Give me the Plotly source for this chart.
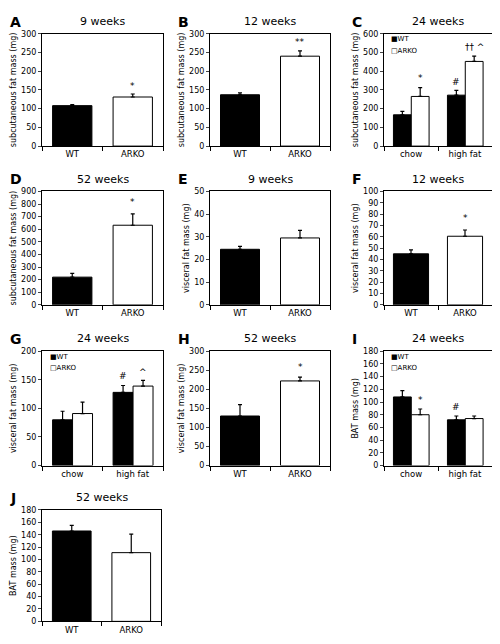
import plotly.graph_objects as go

W, H = 500, 644
FONT = "DejaVu Sans"

# ---- data (mg), mean and upward SEM ----
a_wt, a_ko = [108], [131]
a_wt_err, a_ko_err = [3], [8]
b_wt, b_ko = [137], [240]
b_wt_err, b_ko_err = [5], [14]
c_groups = ["chow", "high fat"]
c_wt, c_ko = [167, 272], [265, 452]
c_wt_err, c_ko_err = [18, 25], [47, 28]
d_wt, d_ko = [220], [632]
d_wt_err, d_ko_err = [30], [90]
e_wt, e_ko = [24.5], [29.5]
e_wt_err, e_ko_err = [1.3], [3.3]
f_wt, f_ko = [45], [60.5]
f_wt_err, f_ko_err = [3.5], [5.5]
g_wt, g_ko = [80, 128], [91, 139]
g_wt_err, g_ko_err = [15, 12], [20, 10]
h_wt, h_ko = [130], [222]
h_wt_err, h_ko_err = [30], [10]
i_wt, i_ko = [108, 72], [80, 74]
i_wt_err, i_ko_err = [10, 6], [9, 4]
j_wt, j_ko = [146], [111]
j_wt_err, j_ko_err = [9], [30]

geno = ["WT", "ARKO"]

# panel boxes in pixels: (x0, x1, ytop, ybottom)
COL = [(34, 155), (202, 322), (376, 484)]
ROW = [(22, 136), (182, 297), (344, 460), (505, 618)]

fig = go.Figure()
annots = []


def px_dom(col, row, x1=None):
    x0, xe = COL[col]
    if x1 is not None:
        xe = x1
    yt, yb = ROW[row]
    return [x0 / W, xe / W], [(H - yb) / H, (H - yt) / H]


def err(v):
    return dict(type="data", array=v, arrayminus=[0] * len(v), symmetric=False,
                color="black", thickness=1.2, width=2)


def panel(n, letter, title, ylab, ymax, dtick, col, row, wt, ko, wte, koe,
          groups=None, marks=None, legend=False, x1=None):
    xa, ya = ("xaxis", "yaxis") if n == 1 else (f"xaxis{n}", f"yaxis{n}")
    xr, yr = ("x", "y") if n == 1 else (f"x{n}", f"y{n}")
    xd, yd = px_dom(col, row, x1)
    if groups is None:
        # single-genotype bars at 1 and 2
        fig.add_bar(x=[1], y=wt, error_y=err(wte), marker=dict(color="black", line=dict(color="black", width=1)),
                    width=0.65, xaxis=xr, yaxis=yr, showlegend=False)
        fig.add_bar(x=[2], y=ko, error_y=err(koe), marker=dict(color="white", line=dict(color="black", width=1)),
                    width=0.65, xaxis=xr, yaxis=yr, showlegend=False)
        labels = geno
    else:
        fig.add_bar(x=[0.84, 1.84], y=wt, error_y=err(wte),
                    marker=dict(color="black", line=dict(color="black", width=1)),
                    width=0.33, xaxis=xr, yaxis=yr, showlegend=False)
        fig.add_bar(x=[1.17, 2.17], y=ko, error_y=err(koe),
                    marker=dict(color="white", line=dict(color="black", width=1)),
                    width=0.33, xaxis=xr, yaxis=yr, showlegend=False)
        labels = groups
    fig.layout[xa] = dict(domain=xd, anchor=yr, range=[0.5, 2.5], tickvals=[1, 2], ticktext=labels,
                          ticks="", showline=True, linecolor="black", mirror=True, linewidth=1,
                          showgrid=False, zeroline=False, tickfont=dict(size=8.5),
                          minor=dict(tick0=0.5, dtick=1, ticks="outside", ticklen=4, tickcolor="black"))
    fig.layout[ya] = dict(domain=yd, anchor=xr, range=[0, ymax], dtick=dtick, ticks="outside", ticklen=3,
                          showline=True, linecolor="black", mirror=True, linewidth=1,
                          showgrid=False, zeroline=False, tickfont=dict(size=8),
                          title=dict(text=ylab, font=dict(size=8), standoff=3))
    cx = (xd[0] + xd[1]) / 2
    annots.append(dict(text=title, x=cx, y=yd[1] + 4 / H, xref="paper", yref="paper",
                       xanchor="center", yanchor="bottom", showarrow=False, font=dict(size=11)))
    annots.append(dict(text=f"<b>{letter}</b>", x=(COL[col][0] - 34) / W, y=yd[1] + 2 / H,
                       xref="paper", yref="paper", xanchor="left", yanchor="bottom",
                       showarrow=False, font=dict(size=14)))
    if marks:
        for xv, yv, t in marks:
            annots.append(dict(text=t, x=xv, y=yv, xref=xr, yref=yr, showarrow=False,
                               yanchor="bottom", font=dict(size=9)))
    if legend:
        annots.append(dict(text="■WT", x=0.6, y=ymax * 0.95, xref=xr, yref=yr, xanchor="left",
                           showarrow=False, font=dict(size=7)))
        annots.append(dict(text="□ARKO", x=0.6, y=ymax * 0.85, xref=xr, yref=yr, xanchor="left",
                           showarrow=False, font=dict(size=7)))


panel(1, "A", "9 weeks", "subcutaneous fat mass (mg)", 300, 50, 0, 0,
      a_wt, a_ko, a_wt_err, a_ko_err, marks=[(2, 141, "*")])
panel(2, "B", "12 weeks", "subcutaneous fat mass (mg)", 300, 50, 1, 0,
      b_wt, b_ko, b_wt_err, b_ko_err, marks=[(2, 258, "**")])
panel(3, "C", "24 weeks", "subcutaneous fat mass (mg)", 600, 100, 2, 0,
      c_wt, c_ko, c_wt_err, c_ko_err, groups=c_groups, legend=True,
      marks=[(1.17, 325, "*"), (1.84, 305, "#"), (2.17, 490, "†† ^")])
panel(4, "D", "52 weeks", "subcutaneous fat mass (mg)", 900, 100, 0, 1,
      d_wt, d_ko, d_wt_err, d_ko_err, marks=[(2, 760, "*")])
panel(5, "E", "9 weeks", "visceral fat mass (mg)", 50, 10, 1, 1,
      e_wt, e_ko, e_wt_err, e_ko_err)
panel(6, "F", "12 weeks", "visceral fat mass (mg)", 100, 10, 2, 1,
      f_wt, f_ko, f_wt_err, f_ko_err, marks=[(2, 70, "*")])
panel(7, "G", "24 weeks", "visceral fat mass (mg)", 200, 50, 0, 2,
      g_wt, g_ko, g_wt_err, g_ko_err, groups=c_groups, legend=True,
      marks=[(1.84, 145, "#"), (2.17, 152, "^")])
panel(8, "H", "52 weeks", "visceral fat mass (mg)", 300, 50, 1, 2,
      h_wt, h_ko, h_wt_err, h_ko_err, marks=[(2, 240, "*")])
panel(9, "I", "24 weeks", "BAT mass (mg)", 180, 20, 2, 2,
      i_wt, i_ko, i_wt_err, i_ko_err, groups=c_groups, legend=True,
      marks=[(1.17, 92, "*"), (1.84, 81, "#")])
panel(10, "J", "52 weeks", "BAT mass (mg)", 180, 20, 0, 3,
      j_wt, j_ko, j_wt_err, j_ko_err, x1=153)

fig.update_layout(width=W, height=H, margin=dict(l=0, r=0, t=0, b=0),
                  plot_bgcolor="white", paper_bgcolor="white",
                  font=dict(family=FONT, color="black", size=9),
                  annotations=annots, showlegend=False)
fig.write_html("out.html")
